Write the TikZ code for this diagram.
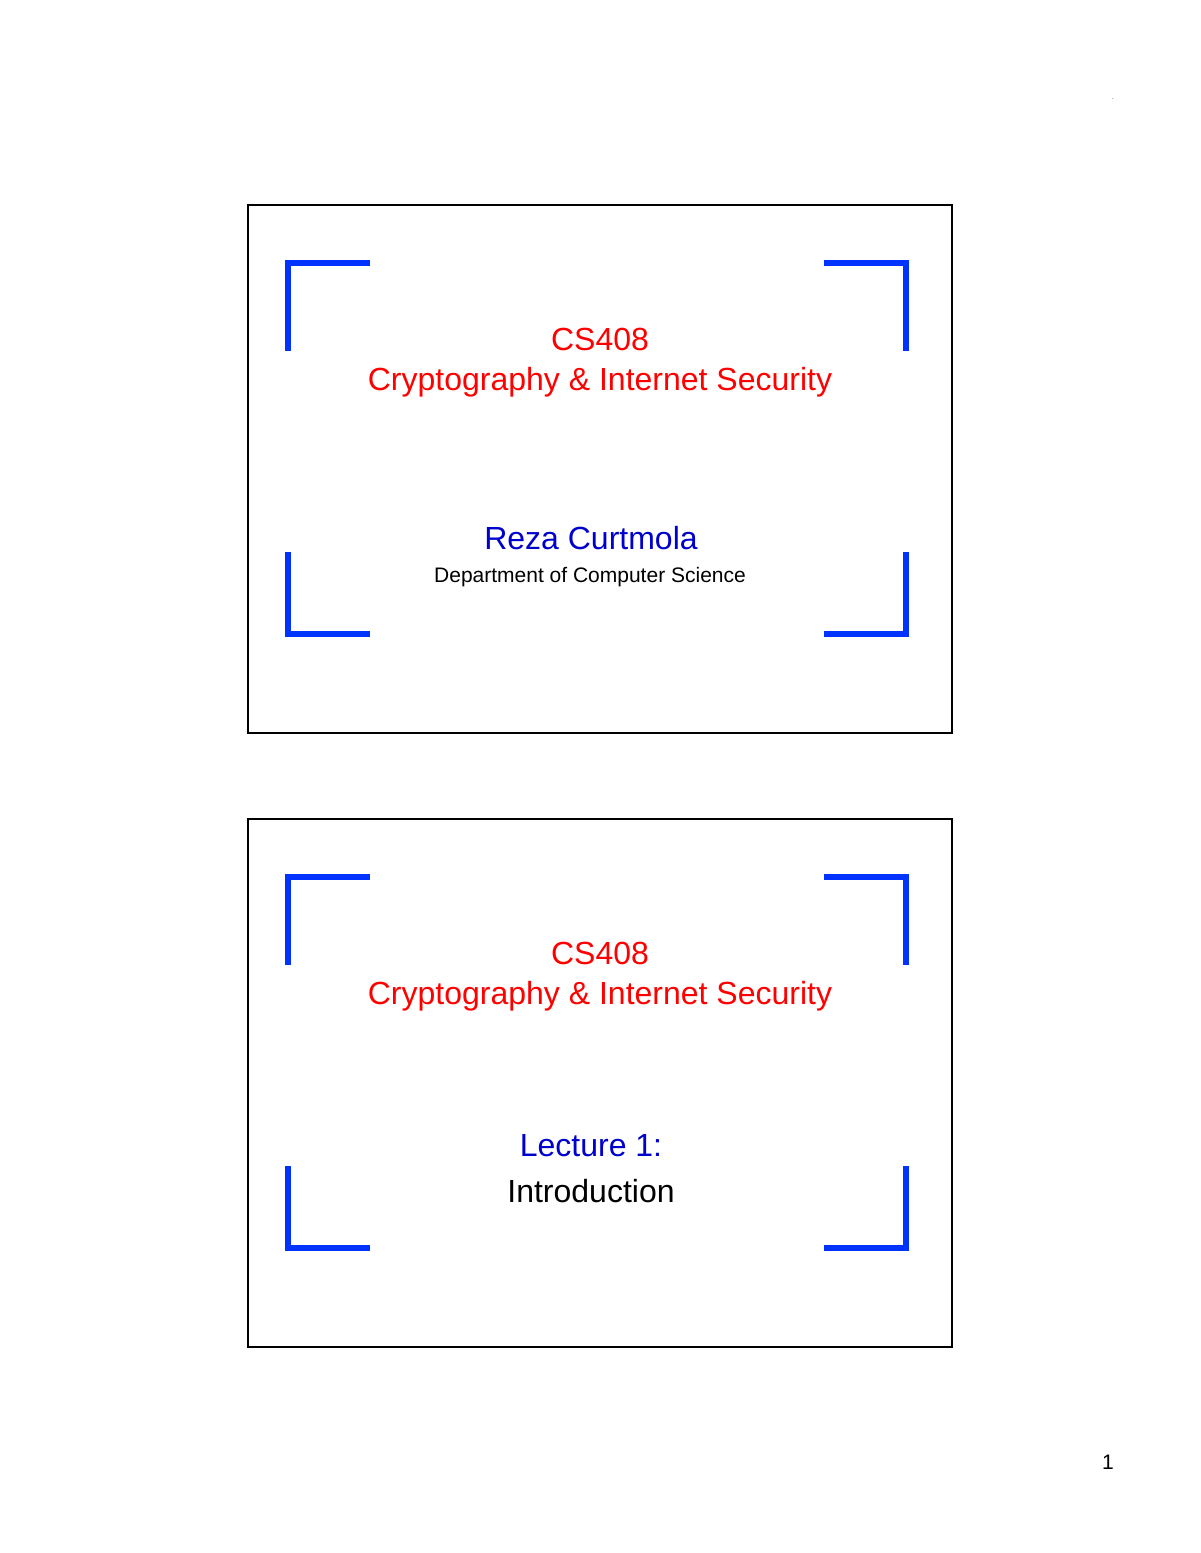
\documentclass[tikz,border=0pt]{standalone}
\usepackage{fontspec}
\setmainfont{Liberation Sans}
\definecolor{brk}{RGB}{0,51,255}
\definecolor{dblue}{RGB}{0,0,204}
\begin{document}
\begin{tikzpicture}[x=1pt,y=-1pt,
  frame/.style={draw=black,line width=1.2pt},
  brack/.style={draw=brk,line width=5.5pt},
  ttl/.style={text=red,font=\fontsize{32}{36}\selectfont,inner sep=0pt},
  sub/.style={text=dblue,font=\fontsize{32}{36}\selectfont,inner sep=0pt},
  small/.style={text=black,font=\fontsize{21}{24}\selectfont,inner sep=0pt}]
\useasboundingbox (0,0) rectangle (1200,1553);
\foreach \d/\n in {0/a,614/b}{
  \draw[frame] (248,205+\d) rectangle (952,733+\d);
  \draw[brack] (288,351+\d) -- (288,263+\d) -- (370,263+\d);
  \draw[brack] (824,263+\d) -- (906,263+\d) -- (906,351+\d);
  \draw[brack] (288,552+\d) -- (288,634+\d) -- (370,634+\d);
  \draw[brack] (824,634+\d) -- (906,634+\d) -- (906,552+\d);
  \node[ttl] (cs\n) at (600,339+\d) {CS408};
  \node[ttl] (cr\n) at (600,382+\d) {Cryptography \& Internet Security};
}
\node[sub] (reza) at (591,538) {Reza Curtmola};
\node[small] (dept) at (590,577) {Department of Computer Science};
\node[sub] (lec) at (591,1146) {Lecture 1:};
\node[sub,text=black] (intro) at (591,1191) {Introduction};
\node[small] (pg) at (1108,1462) {1};
\node[font=\fontsize{6}{6}\selectfont,inner sep=0pt] (dot) at (1113,99) {.};
\end{tikzpicture}
\end{document}
